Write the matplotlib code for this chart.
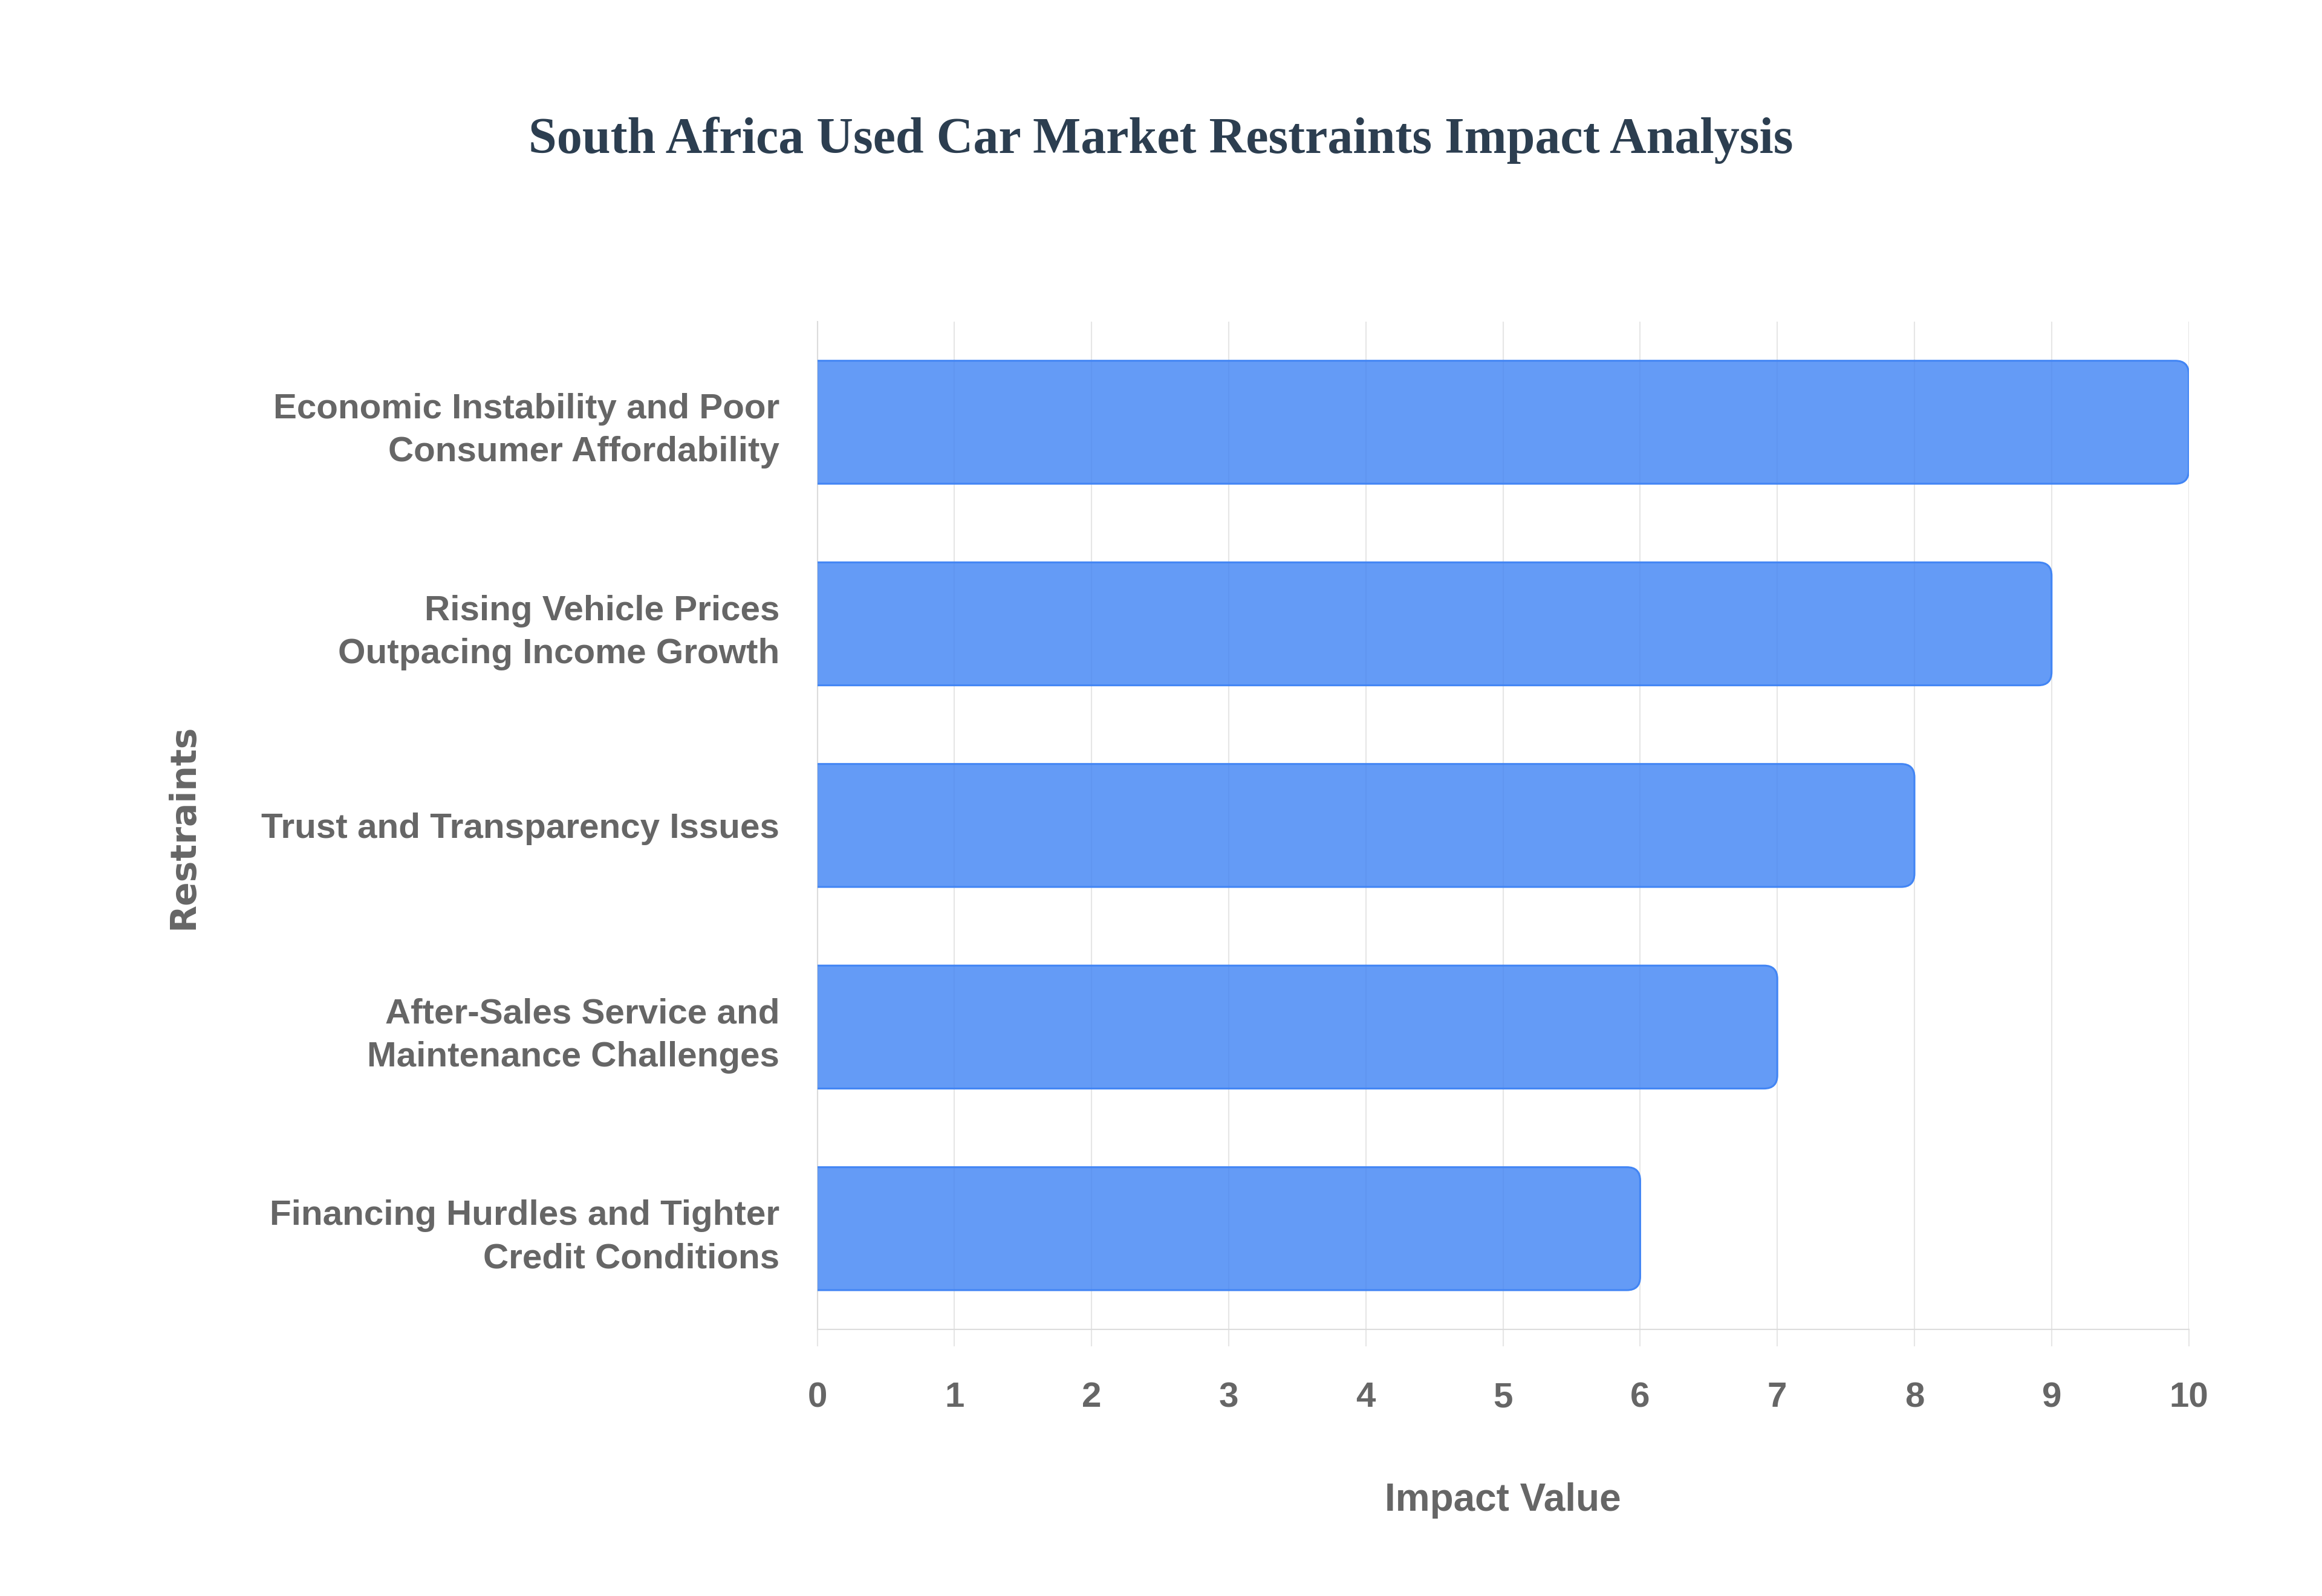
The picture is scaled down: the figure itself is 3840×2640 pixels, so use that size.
import matplotlib.pyplot as plt
from matplotlib.patches import FancyBboxPatch

# data
restraints = [
    "Economic Instability and Poor\nConsumer Affordability",
    "Rising Vehicle Prices\nOutpacing Income Growth",
    "Trust and Transparency Issues",
    "After-Sales Service and\nMaintenance Challenges",
    "Financing Hurdles and Tighter\nCredit Conditions",
]
impact = [10, 9, 8, 7, 6]
x_ticks = [0, 1, 2, 3, 4, 5, 6, 7, 8, 9, 10]

grey = '#666666'
grid_col = '#e6e6e6'

fig = plt.figure(figsize=(38.4, 26.4), dpi=100)
ax = fig.add_axes([0.352, 0.167, 0.5906, 0.6316])

ax.set_xlim(0, 10)
ax.set_ylim(len(restraints) - 0.5, -0.5)

# bars -> rounded right end, left end clipped at x=0
bars = ax.barh(range(len(restraints)), impact, height=0.61)
pos = ax.get_position()
w_px = pos.width * 3840
h_px = pos.height * 2640
aspect = (5.0 / h_px) / (10.0 / w_px)
r = 22 * 10.0 / w_px
for b in bars:
    x0, y0 = b.get_x(), b.get_y()
    w, h = b.get_width(), b.get_height()
    b.remove()
    p = FancyBboxPatch((x0 - 2 * r, y0), w + 2 * r, h,
                       boxstyle=f"round,pad=0,rounding_size={r}",
                       mutation_aspect=aspect,
                       facecolor=(66 / 255, 133 / 255, 244 / 255, 0.82),
                       edgecolor='#4285f4', linewidth=2.2, zorder=3)
    ax.add_patch(p)

ax.set_xticks(x_ticks)
ax.set_yticks(range(len(restraints)))
ax.set_yticklabels(restraints)
for lbl in ax.get_yticklabels() + ax.get_xticklabels():
    lbl.set_fontfamily('Liberation Sans')
    lbl.set_fontweight('bold')
    lbl.set_color(grey)
    lbl.set_fontsize(42)
for lbl in ax.get_yticklabels():
    lbl.set_linespacing(1.4)

ax.tick_params(axis='y', length=0, pad=45)
ax.tick_params(axis='x', length=20, width=1.5, color=grid_col, pad=42)

ax.grid(axis='x', color=grid_col, linewidth=1.5)
ax.set_axisbelow(True)
for s in ['top', 'right']:
    ax.spines[s].set_visible(False)
for s in ['left', 'bottom']:
    ax.spines[s].set_color('#dcdcdc')
    ax.spines[s].set_linewidth(1.5)

fig.text(0.5, 0.912, "South Africa Used Car Market Restraints Impact Analysis",
         ha='center', va='center', fontsize=60.5, fontweight='bold',
         family='Liberation Serif', color='#2c3e50')
fig.text(0.6473, 0.06, "Impact Value", ha='center', va='center',
         fontsize=46, fontweight='bold', family='Liberation Sans', color=grey)
fig.text(0.0789, 0.482, "Restraints", ha='center', va='center', rotation=90,
         fontsize=42, fontweight='bold', family='DejaVu Sans', color=grey)

fig.savefig('out.png', dpi=100, facecolor='white')
